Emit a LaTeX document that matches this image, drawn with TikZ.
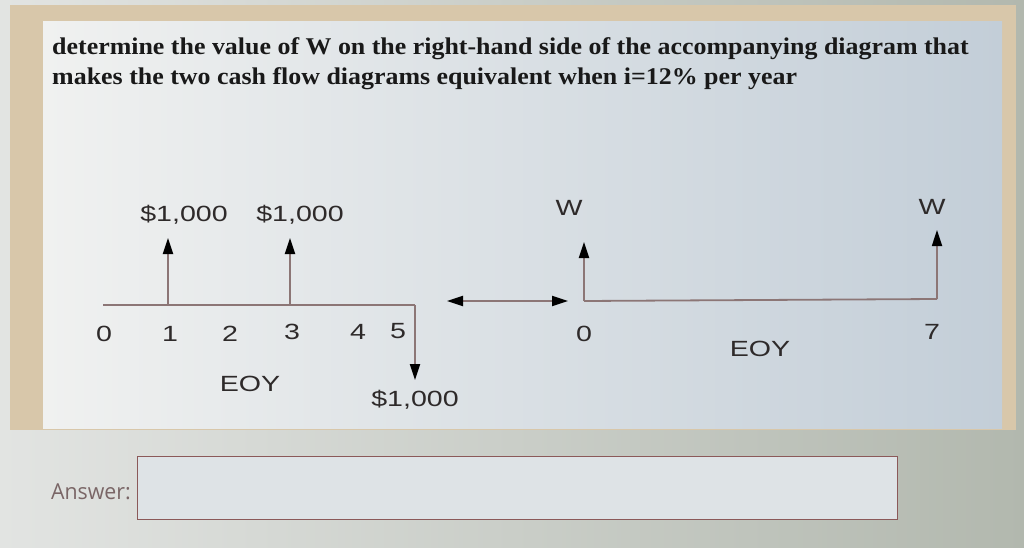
\documentclass[tikz,border=0pt]{standalone}
\usepackage{fontspec}
\setmainfont{Liberation Serif}
\setsansfont{Liberation Sans}
\newfontfamily\answerfont{Open Sans}
\usetikzlibrary{arrows.meta}
\definecolor{frame}{HTML}{D8C7AA}
\definecolor{lineclr}{HTML}{8C7676}
\definecolor{txt}{HTML}{2E2A2A}
\definecolor{panelL}{HTML}{F0F1F0}
\definecolor{panelR}{HTML}{C3CED8}
\definecolor{bgL}{HTML}{E2E4E2}
\definecolor{bgR}{HTML}{B2B8AE}
\tikzstyle{lbl}=[font=\sffamily\fontsize{22}{22}\selectfont,
                 text=txt,
                 inner sep=0pt,
                 xscale=1.3]
\tikzstyle{ttl}=[font=\bfseries\fontsize{24}{24}\selectfont,
                 text=black!90,
                 anchor=base west,
                 inner sep=0pt,
                 xscale=1.08]
\tikzstyle{ax}=[draw=lineclr, line width=1.8pt]
\tikzstyle{cf}=[draw=lineclr, line width=1.8pt,
                -{Triangle[length=16pt,width=10pt,fill=black,color=black]}]

\begin{document}
\begin{tikzpicture}[x=1pt,y=-1pt]

% background and panel
\useasboundingbox (0,0) rectangle (1024,548);
\shade[left color=bgL, right color=bgR] (0,0) rectangle (1024,548);
\fill[frame] (10,5) rectangle (1016,430);
\shade[left color=panelL, right color=panelR] (43,22) rectangle (1002,428);

% question
\node[ttl] (q1) at (52,55) {determine the value of W on the right-hand side of the accompanying diagram that};
\node[ttl] (q2) at (52,85) {makes the two cash flow diagrams equivalent when i=12\% per year};

% left diagram
\coordinate (a0) at (103,305);
\coordinate (a1) at (168,305);
\coordinate (a3) at (290,305);
\coordinate (a5) at (415,305);
\coordinate (u1) at (168,238);
\coordinate (u3) at (290,238);
\coordinate (d5) at (415,380);
\draw[ax] (a0) -- (a5);
\draw[cf] (a1) -- (u1);
\draw[cf] (a3) -- (u3);
\draw[cf] (a5) -- (d5);
\node[lbl] (p1) at (184,215) {\$1,000};
\node[lbl] (p3) at (300,215) {\$1,000};
\node[lbl] (p5) at (415,400) {\$1,000};
\node[lbl] (n0) at (104,334) {0};
\node[lbl] (n1) at (170,334) {1};
\node[lbl] (n2) at (230,334) {2};
\node[lbl] (n3) at (292,332) {3};
\node[lbl] (n4) at (358,332) {4};
\node[lbl] (n5) at (398,331) {5};
\node[lbl] (eoyl) at (250,384) {EOY};

% equivalence
\coordinate (e1) at (447,301);
\coordinate (e2) at (568,301);
\draw[draw=lineclr, line width=1.8pt,
      {Triangle[length=16pt,width=10pt,fill=black,color=black]}-{Triangle[length=16pt,width=10pt,fill=black,color=black]}] (e1) -- (e2);

% right diagram
\coordinate (b0) at (584,301);
\coordinate (b7) at (937,299);
\coordinate (w0) at (584,242);
\coordinate (w7) at (937,230);
\draw[ax] (b0) -- (b7);
\draw[cf] (b0) -- (w0);
\draw[cf] (b7) -- (w7);
\node[lbl] (lw0) at (569,208) {W};
\node[lbl] (lw7) at (932,207) {W};
\node[lbl] (m0) at (584,334) {0};
\node[lbl] (m7) at (932,332) {7};
\node[lbl] (eoyr) at (760,349) {EOY};

% answer
\node[font=\answerfont\fontsize{22}{22}\selectfont, text=black!60!red!20!gray, anchor=east, inner sep=0pt, xscale=0.97] (ans) at (131,492) {Answer:};
\draw[fill=panelL!60!panelR, draw=black!35!red!30!gray] (137,456) rectangle (897,519);

\end{tikzpicture}
\end{document}
